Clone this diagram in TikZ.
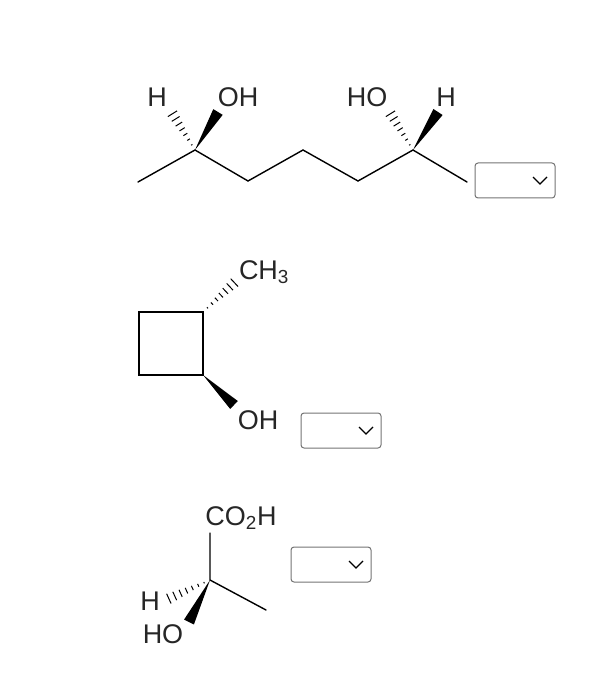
\documentclass[tikz,border=0pt]{standalone}
\usepackage{fontspec}
\setmainfont{Liberation Sans}
\usetikzlibrary{calc}
\tikzset{bond/.style={line width=1.4pt,line cap=round},
 lbl/.style={inner sep=0pt,font=\fontsize{27}{27}\selectfont,text=black!85},
 dd/.style={draw=black!55,line width=1pt,rounded corners=3pt},
 chev/.style={line width=1.2pt}}
\newcommand\hashb[2]{\foreach \t in {0.14,0.28,...,1.0}{\draw[line width=1pt] ($(#1)!\t!(#2)!{\t*5.5pt}!90:(#2)$) -- ($(#1)!\t!(#2)!{\t*5.5pt}!-90:(#2)$);}}
\newcommand\wedgeb[2]{\fill ($(#1)$) -- ($(#2)!5.5pt!90:(#1)$) -- ($(#2)!5.5pt!-90:(#1)$) -- cycle;}
\newcommand\dropdown[3]{\draw[dd] (#1,#2) rectangle ++(80,35) node[coordinate](#3){};
 \draw[chev] ($(#1,#2)+(58,14)$) -- ($(#1,#2)+(65,21)$) -- ($(#1,#2)+(72,14)$);}
\begin{document}
\begin{tikzpicture}[x=1pt,y=-1pt]
\useasboundingbox (0,0) rectangle (608,684);
% molecule 1
\coordinate (a1) at (138,182); \coordinate (a2) at (195,150);
\coordinate (a3) at (248,181); \coordinate (a4) at (303,150);
\coordinate (a5) at (358,181); \coordinate (a6) at (413,150);
\coordinate (a7) at (467,182);
\draw[bond] (a1)--(a2)--(a3)--(a4)--(a5)--(a6)--(a7);
\node[lbl] (h1) at (157,97) {H};
\node[lbl] (oh1) at (238,97) {OH};
\node[lbl] (ho2) at (367,97) {HO};
\node[lbl] (h2) at (446,97) {H};
\coordinate (h1e) at (172,113); \coordinate (oh1e) at (218,112);
\coordinate (ho2e) at (390,113); \coordinate (h2e) at (438,112);
\hashb{a2}{h1e} \wedgeb{a2}{oh1e}
\hashb{a6}{ho2e} \wedgeb{a6}{h2e}
\dropdown{475}{163}{d1}
% molecule 2
\coordinate (b1) at (139,312); \coordinate (b2) at (203,312);
\coordinate (b3) at (203,375); \coordinate (b4) at (139,375);
\draw[bond] (b1)--(b2)--(b3)--(b4)--cycle;
\node[lbl] (ch3) at (264,272) {CH\textsubscript{3}};
\node[lbl] (oh3) at (258,420) {OH};
\coordinate (ch3e) at (235,282); \coordinate (oh3e) at (234,405);
\hashb{b2}{ch3e} \wedgeb{b3}{oh3e}
\dropdown{301}{413}{d2}
% molecule 3
\node[lbl] (co2h) at (241,518) {CO\textsubscript{2}H};
\coordinate (c0) at (210,533); \coordinate (c1) at (210,580);
\coordinate (c2) at (266,610);
\draw[bond] (c0)--(c1)--(c2);
\node[lbl] (h3) at (150,601) {H};
\node[lbl] (ho3) at (163,634) {HO};
\coordinate (h3e) at (168,599); \coordinate (ho3e) at (189,622);
\hashb{c1}{h3e} \wedgeb{c1}{ho3e}
\dropdown{291}{547}{d3}
\end{tikzpicture}
\end{document}
